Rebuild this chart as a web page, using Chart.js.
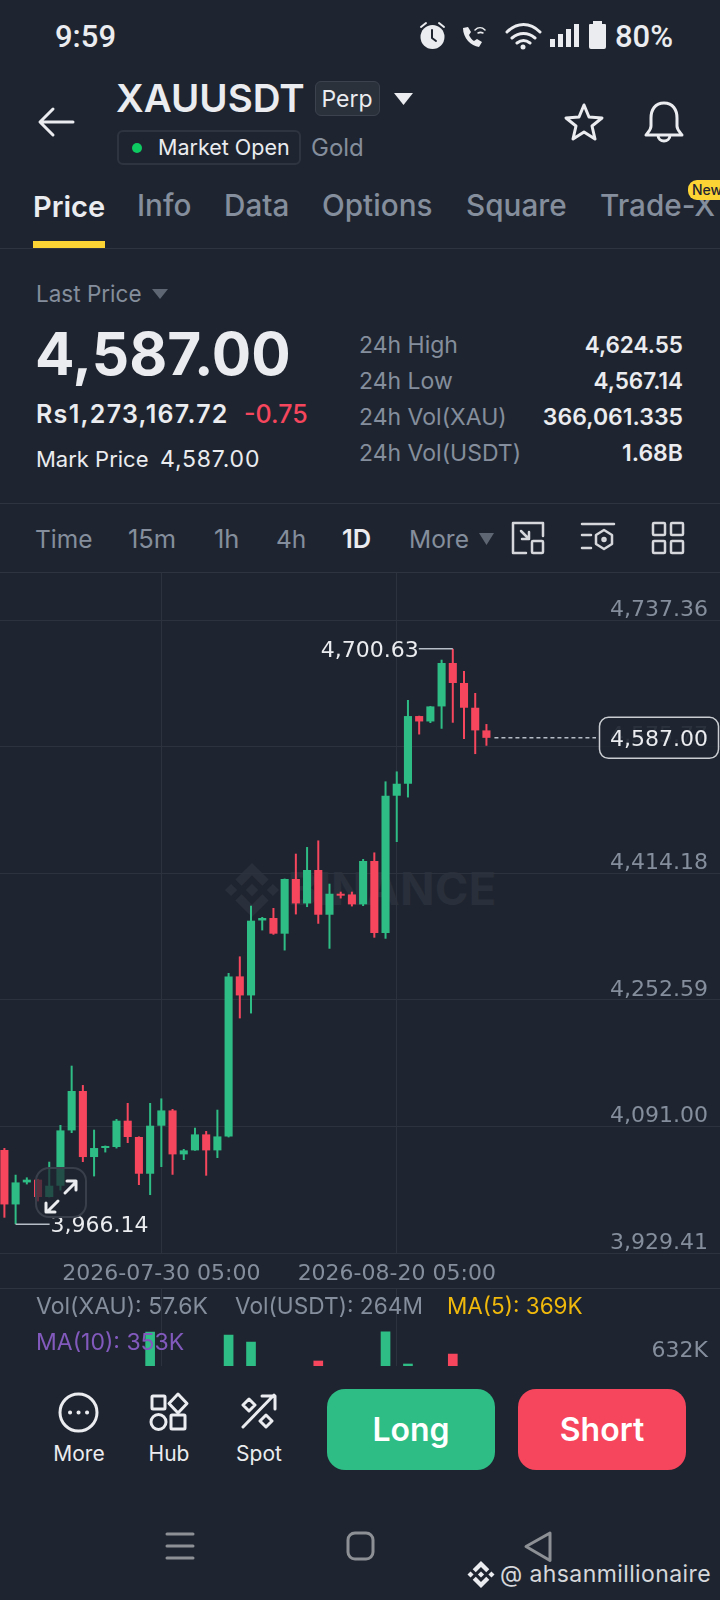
<!DOCTYPE html>
<html>
<head>
<meta charset="utf-8">
<title>XAUUSDT</title>
<script src="https://cdn.jsdelivr.net/npm/chart.js@4"></script>
<style>
html, body { margin: 0; padding: 0; background: #1f2530; }
body { width: 720px; height: 1600px; position: relative; overflow: hidden; font-family: Inter, sans-serif; color: #eaecef; }
.t { position: absolute; white-space: nowrap; transform: translateY(-50%); line-height: 1; }
.r { transform: translate(-100%, -50%); }
.c { transform: translate(-50%, -50%); }
.gray { color: #848e9c; }
.line { position: absolute; left: 0; width: 720px; height: 1px; background: #2f3540; }
canvas { position: absolute; left: 0; }
svg.layer { position: absolute; left: 0; top: 0; }
</style>
</head>
<body>

<svg class="layer" width="720" height="1600" style="z-index:0">
  <defs>
    <symbol id="bnb" viewBox="0 0 126.61 126.61">
      <path d="M38.73 53.2 63.3 28.63l24.59 24.59 14.3-14.3L63.3 0 24.43 38.9z"/>
      <path d="M0 63.31 14.3 49l14.3 14.3-14.3 14.3z"/>
      <path d="M38.73 73.41 63.3 97.98l24.59-24.58 14.31 14.29L63.3 126.6 24.43 87.72z"/>
      <path d="M98 63.31 112.3 49l14.31 14.3-14.31 14.3z"/>
      <path d="M77.83 63.3 63.3 48.78 48.78 63.3 63.3 77.82z"/>
    </symbol>
  </defs>
  <use href="#bnb" x="225" y="863" width="54" height="54" fill="#2a303b"/>
  <text x="288" y="905" font-family="Inter" font-weight="700" font-size="45" fill="#2a303b" textLength="208">BINANCE</text>
</svg>

<canvas id="velas" width="720" height="715" style="top:573px;z-index:1"></canvas>
<canvas id="volume" width="720" height="78" style="top:1288px;z-index:1"></canvas>

<div style="z-index:2;position:relative">
  <div class="t" style="left:55px;top:36px;font:500 31px Roboto">9:59</div>
  <div class="t" style="left:615px;top:36px;font:500 31px Roboto">80%</div>

  <div class="t" style="left:116px;top:98px;font-size:38.500px;font-weight:600">XAUUSDT</div>
  <div style="position:absolute;left:315px;top:81px;width:65px;height:35px;box-sizing:border-box;border:1px solid #3d434e;border-radius:6px;background:#2b313b"></div>
  <div class="t c" style="left:347px;top:99px;font-size:23px">Perp</div>
  <div style="position:absolute;left:117px;top:130px;width:184px;height:35px;box-sizing:border-box;border:2px solid #2f3540;border-radius:6px"></div>
  <div style="position:absolute;left:132px;top:143px;width:10px;height:10px;border-radius:5px;background:#0ecb61"></div>
  <div class="t" style="left:158px;top:148px;font-size:21.5px">Market Open</div>
  <div class="t gray" style="left:311px;top:148px;font-size:24px">Gold</div>

  <div class="t" style="left:33px;top:206px;font-size:29px;font-weight:600">Price</div>
  <div class="t gray" style="left:137px;top:206px;font-size:29.700px;font-weight:500">Info</div>
  <div class="t gray" style="left:224px;top:206px;font-size:29.700px;font-weight:500">Data</div>
  <div class="t gray" style="left:322px;top:206px;font-size:29.700px;font-weight:500">Options</div>
  <div class="t gray" style="left:466px;top:206px;font-size:29.700px;font-weight:500">Square</div>
  <div class="t gray" style="left:600px;top:206px;font-size:29.700px;font-weight:500">Trade-X</div>
  <div style="position:absolute;left:688px;top:180px;width:40px;height:20px;border-radius:9px;background:#fcd535"></div>
  <div class="t" style="left:692px;top:190px;font-size:14px;color:#1f2530;font-weight:500">New</div>
  <div style="position:absolute;left:33px;top:241px;width:72px;height:7px;background:#fcd535"></div>
  <div class="line" style="top:248px"></div>

  <div class="t gray" style="left:36px;top:294px;font-size:22.500px">Last Price</div>
  <div class="t" style="left:35px;top:354px;font-size:58.500px;font-weight:700">4,587.00</div>
  <div class="t" style="left:36px;top:414px;font-size:25px;font-weight:600;letter-spacing:1.300px">Rs1,273,167.72</div>
  <div class="t" style="left:244px;top:414px;font-size:25px;font-weight:500;color:#f6465d">-0.75</div>
  <div class="t" style="left:36px;top:459px;font-size:22px">Mark Price</div>
  <div class="t" style="left:160px;top:459px;font-size:23px;letter-spacing:0.800px">4,587.00</div>

  <div class="t gray" style="left:359px;top:345px;font-size:23px">24h High</div>
  <div class="t gray" style="left:359px;top:381px;font-size:23px">24h Low</div>
  <div class="t gray" style="left:359px;top:417px;font-size:23px">24h Vol(XAU)</div>
  <div class="t gray" style="left:359px;top:453px;font-size:23px">24h Vol(USDT)</div>
  <div class="t r" style="left:683px;top:345px;font-size:22.500px;font-weight:600">4,624.55</div>
  <div class="t r" style="left:683px;top:381px;font-size:22.500px;font-weight:600">4,567.14</div>
  <div class="t r" style="left:683px;top:417px;font-size:23px;font-weight:600">366,061.335</div>
  <div class="t r" style="left:683px;top:453px;font-size:23px;font-weight:600">1.68B</div>
  <div class="line" style="top:503px"></div>

  <div class="t gray" style="left:35px;top:539px;font-size:24.500px">Time</div>
  <div class="t gray" style="left:128px;top:539px;font-size:25.500px">15m</div>
  <div class="t gray" style="left:214px;top:539px;font-size:25.500px">1h</div>
  <div class="t gray" style="left:276px;top:539px;font-size:24.500px">4h</div>
  <div class="t" style="left:342px;top:539px;font-size:25.500px;font-weight:600">1D</div>
  <div class="t gray" style="left:409px;top:539px;font-size:24.500px">More</div>
  <div class="line" style="top:572px"></div>
  <div class="line" style="top:1288px"></div>

  <div class="t gray" style="left:36px;top:1306px;font-size:23px">Vol(XAU): 57.6K</div>
  <div class="t gray" style="left:235px;top:1306px;font-size:22.700px">Vol(USDT): 264M</div>
  <div class="t" style="left:447px;top:1306px;font-size:22.500px;color:#f0b90b">MA(5): 369K</div>
  <div class="t" style="left:36px;top:1342px;font-size:23px;color:#8259bd">MA(10): 353K</div>

  <!-- expand button over the chart -->
  <div style="position:absolute;left:35px;top:1167px;width:52px;height:51px;box-sizing:border-box;border:2px solid #3a404b;border-radius:14px;background:rgba(31,37,48,.72)"></div>

  <div class="t c" style="left:79px;top:1453px;font-size:21px">More</div>
  <div class="t c" style="left:169px;top:1453px;font-size:21px">Hub</div>
  <div class="t c" style="left:259px;top:1453px;font-size:21px">Spot</div>
  <div style="position:absolute;left:327px;top:1389px;width:168px;height:81px;border-radius:18px;background:#2ebd85"></div>
  <div style="position:absolute;left:518px;top:1389px;width:168px;height:81px;border-radius:18px;background:#f6465d"></div>
  <div class="t c" style="left:411px;top:1430px;font-size:32px;font-weight:600;color:#fff">Long</div>
  <div class="t c" style="left:602px;top:1430px;font-size:32px;font-weight:600;color:#fff">Short</div>

  <div class="t" style="left:500px;top:1574px;font-size:23px;color:#d5d7da;letter-spacing:0.400px">@ ahsanmillionaire</div>
</div>

<svg class="layer" width="720" height="1600" style="z-index:3" fill="none" stroke="#eaecef" stroke-width="3" stroke-linecap="round" stroke-linejoin="round">
  <!-- status bar -->
  <circle cx="432.5" cy="37" r="12" fill="#eaecef" stroke="none"/>
  <path d="M432 30v8l4 3" stroke="#1f2530" stroke-width="2"/>
  <path d="M421 27l5-4M444 27l-5-4" stroke-width="2"/>
  <path d="M463 28c0 10 8 18 16 19l3-5-5-3-3 2c-2-1-4-4-5-6l2-3-3-5z" fill="#eaecef" stroke="none"/>
  <path d="M475 30c3-3 7-3 10 0M478 33c2-1 3-1 5 0" stroke-width="1.5"/>
  <path d="M507 32c10-10 23-10 33 0M512 38c7-6 16-6 23 0M517 43c4-3 9-3 13 0" stroke-width="3"/>
  <circle cx="523" cy="47" r="2.5" fill="#eaecef" stroke="none"/>
  <path d="M550 47v-8h5v8zM558 47v-13h5v13zM566 47v-18h5v18zM574 47v-23h5v23z" fill="#eaecef" stroke="none"/>
  <path d="M593 21h9v3h3a1 1 0 0 1 1 1v22a2 2 0 0 1-2 2h-13a2 2 0 0 1-2-2v-22a1 1 0 0 1 1-1h3z" fill="#eaecef" stroke="none"/>
  <!-- header -->
  <path d="M73 122H41M53 109l-13 13 13 13"/>
  <path d="M394 93h19l-9.5 12z" fill="#eaecef" stroke="none"/>
  <path d="M584 105l5 12 13 1-10 8 3 13-11-7-11 7 3-13-10-8 13-1z"/>
  <path d="M664 103c-9 0-13 7-13 15v8c0 4-3 6-5 9h36c-2-3-5-5-5-9v-8c0-8-4-15-13-15zM658 135c0 8 12 8 12 0"/>
  <!-- small triangles -->
  <path d="M152 289h16l-8 10zM479 533h15l-7.5 12z" fill="#5e6673" stroke="none"/>
  <!-- chart tools -->
  <g stroke="#d5d7da" stroke-width="2.5">
    <path d="M526 553h-13v-30h30v13M521 531l8 8M529 532v7h-7"/>
    <rect x="532" y="541" width="11" height="12" rx="1"/>
    <path d="M582 524h32M582 535h9M582 548h9"/>
    <path d="M604 530l8 5v9l-8 5-8-5v-9z"/>
    <circle cx="604" cy="539.5" r="1.5"/>
    <rect x="653" y="523" width="12" height="12" rx="1"/><rect x="671" y="523" width="12" height="12" rx="1"/>
    <rect x="653" y="541" width="12" height="12" rx="1"/><rect x="671" y="541" width="12" height="12" rx="1"/>
  </g>
  <!-- expand arrows -->
  <path d="M65 1193l10-10M67 1181h9v9M58 1201l-10 10M46 1203v9h9"/>
  <!-- bottom bar icons -->
  <circle cx="78.5" cy="1412.5" r="18.5"/>
  <path d="M70 1412.5h.1M78.5 1412.5h.1M87 1412.5h.1" stroke-width="4"/>
  <rect x="152" y="1396" width="13" height="13" rx="1"/>
  <path d="M178 1394l9 9.500-9 9.500-9-9.500z"/>
  <circle cx="158.500" cy="1422" r="7.500"/>
  <rect x="171" y="1415" width="14" height="14" rx="1"/>
  <path d="M243 1427l31-32M262 1396h13v13M249 1399l6 6-6 6-6-6zM266 1415l6 6-6 6-6-6z"/>
  <!-- nav bar -->
  <g stroke="#8d9095">
    <path d="M167 1534h26M167 1546h26M167 1558h26"/>
    <rect x="348" y="1533" width="25" height="26" rx="7"/>
    <path d="M550 1533l-24 13.500 24 14z"/>
  </g>
  <use href="#bnb" x="467" y="1561" width="28" height="27" fill="#eaecef" stroke="none"/>
</svg>

<script>
// candles, one a day
const dates = ['2026-07-16', '2026-07-17', '2026-07-18', '2026-07-19', '2026-07-20', '2026-07-21', '2026-07-22', '2026-07-23', '2026-07-24', '2026-07-25', '2026-07-26', '2026-07-27', '2026-07-28', '2026-07-29', '2026-07-30', '2026-07-31', '2026-08-01', '2026-08-02', '2026-08-03', '2026-08-04', '2026-08-05', '2026-08-06', '2026-08-07', '2026-08-08', '2026-08-09', '2026-08-10', '2026-08-11', '2026-08-12', '2026-08-13', '2026-08-14', '2026-08-15', '2026-08-16', '2026-08-17', '2026-08-18', '2026-08-19', '2026-08-20', '2026-08-21', '2026-08-22', '2026-08-23', '2026-08-24', '2026-08-25', '2026-08-26', '2026-08-27', '2026-08-28'];
const opens = [4060.9, 3991.4, 4019.5, 4023, 4000.9, 4015.3, 4085.9, 4136.2, 4051.9, 4063.4, 4064.7, 4098.3, 4077.5, 4030.6, 4091.9, 4111.4, 4055.3, 4060.4, 4080.8, 4060.4, 4078.2, 4282.5, 4258.2, 4353.9, 4357, 4337, 4406.8, 4375.6, 4418.3, 4361.2, 4388, 4387.1, 4374.4, 4429.8, 4337.9, 4513.1, 4528.4, 4614.8, 4607.9, 4627.1, 4682.5, 4657, 4625.4, 4596.5];
const closes = [3991.4, 4019.5, 4023, 4000.9, 4015.3, 4085.9, 4136.2, 4051.9, 4063.4, 4066, 4098.3, 4077.5, 4030.6, 4091.9, 4111.4, 4055.3, 4060.4, 4080.8, 4060.4, 4078.2, 4282.5, 4258.2, 4353.6, 4357, 4337, 4406.8, 4375.6, 4418.3, 4361.2, 4388, 4385.5, 4374.4, 4429.8, 4337.9, 4513.1, 4528.4, 4614.8, 4607.9, 4627.1, 4682.5, 4657, 4625.4, 4596.5, 4587];
const highs = [4063.4, 4029.3, 4025.9, 4024, 4045.9, 4092.8, 4168.5, 4143.8, 4086.8, 4066.5, 4100.4, 4120.9, 4078.2, 4120.9, 4126.7, 4113.2, 4062.2, 4089.3, 4085.1, 4112.3, 4286.8, 4308, 4372.7, 4358.3, 4369.8, 4407.3, 4439.1, 4447.6, 4456, 4400.8, 4390.6, 4390.6, 4432.3, 4440.7, 4531.4, 4544.1, 4635.3, 4615.2, 4627.5, 4686.7, 4700.63, 4672.3, 4644.2, 4604.6];
const lows = [3974.5, 3966.14, 4017, 3995.3, 4000.5, 4009.3, 4082.6, 4045.6, 4027.2, 4057.8, 4062.9, 4069.8, 4016.2, 4003.4, 4039.2, 4029.3, 4048.1, 4060, 4028.1, 4050.7, 4077, 4228.9, 4235.2, 4341.2, 4335.7, 4315.6, 4361.6, 4371, 4349.7, 4317.8, 4382, 4371.8, 4372.3, 4331.9, 4330.6, 4454, 4510.9, 4591.3, 4605.9, 4598.6, 4606.3, 4585.5, 4566.3, 4576.9];
const volumes = [310000, 280000, 190000, 260000, 240000, 420000, 510000, 480000, 350000, 170000, 300000, 330000, 410000, 864000, 380000, 430000, 210000, 260000, 350000, 390000, 840000, 520000, 784000, 240000, 270000, 460000, 530000, 480000, 632000, 450000, 150000, 210000, 370000, 560000, 866000, 430000, 608000, 180000, 220000, 480000, 688000, 470000, 360000, 57600];

const priceTicks = [3929.41, 4091.00, 4252.59, 4414.18, 4575.77, 4737.36];
const timeTicks = [14, 35];
const volumeTicks = [632000];
const lastPrice = 4587.00;

const verde = '#2ebd85';
const vermelho = '#f6465d';
const grade = '#2d333e';
const cinza = '#848e9c';
const fonte = { family: 'DejaVu Sans', size: 22 };

const cores = opens.map((o, i) => closes[i] >= o ? verde : vermelho);
const fmt = v => v.toLocaleString('en-US', { minimumFractionDigits: 2, maximumFractionDigits: 2 });

// same horizontal window on both charts
const xMin = -0.3925;
const xMax = 63.836;

// tick labels must not push the plot area inwards
const semPadding = s => {
    s.paddingLeft = 0;
    s.paddingRight = 0;
    s.paddingTop = 0;
    s.paddingBottom = 0;
};
const eixoY = s => {
    s.width = 0;
    semPadding(s);
};

// high, low and last price labels
const marcas = {
    id: 'marcas',
    afterDatasetsDraw(chart) {
        const { ctx, scales: { x, y } } = chart;
        const topo = Math.max(...highs);
        const fundo = Math.min(...lows);
        const xTopo = x.getPixelForValue(highs.indexOf(topo));
        const xFundo = x.getPixelForValue(lows.indexOf(fundo));
        const xUltimo = x.getPixelForValue(dates.length - 1);
        ctx.save();
        ctx.font = '22px "DejaVu Sans"';
        ctx.textBaseline = 'middle';
        ctx.lineWidth = 1.5;
        ctx.strokeStyle = '#b7bdc6';
        ctx.fillStyle = '#eaecef';

        ctx.beginPath();
        ctx.moveTo(xTopo, y.getPixelForValue(topo));
        ctx.lineTo(xTopo - 34, y.getPixelForValue(topo));
        ctx.moveTo(xFundo, y.getPixelForValue(fundo));
        ctx.lineTo(xFundo + 34, y.getPixelForValue(fundo));
        ctx.stroke();
        ctx.textAlign = 'right';
        ctx.fillText(fmt(topo), xTopo - 34, y.getPixelForValue(topo) + 2);
        ctx.textAlign = 'left';
        ctx.fillText(fmt(fundo), xFundo + 35, y.getPixelForValue(fundo) + 2);

        const yUltimo = y.getPixelForValue(lastPrice);
        ctx.setLineDash([4, 3]);
        ctx.beginPath();
        ctx.moveTo(xUltimo + 8, yUltimo);
        ctx.lineTo(596, yUltimo);
        ctx.stroke();
        ctx.setLineDash([]);

        ctx.beginPath();
        ctx.roundRect(599.5, yUltimo - 20.5, 119, 41, 9);
        ctx.fillStyle = 'rgba(31,37,48,.88)';
        ctx.fill();
        ctx.strokeStyle = '#c9ccd1';
        ctx.stroke();
        ctx.fillStyle = '#eaecef';
        ctx.textAlign = 'right';
        ctx.fillText(fmt(lastPrice), 708, yUltimo + 2);
        ctx.restore();
    }
};

new Chart(document.getElementById('velas'), {
    type: 'bar',
    data: {
        labels: dates,
        datasets: [
            {
                data: dates.map((d, i) => ({ x: i, y: [opens[i], closes[i]] })),
                backgroundColor: cores,
                maxBarThickness: 9,
                grouped: false
            },
            {
                data: dates.map((d, i) => ({ x: i, y: [lows[i], highs[i]] })),
                backgroundColor: cores,
                maxBarThickness: 2,
                grouped: false
            }
        ]
    },
    options: {
        responsive: false,
        animation: false,
        events: [],
        layout: { padding: 0 },
        scales: {
            x: {
                type: 'linear',
                offset: false,
                min: xMin,
                max: xMax,
                afterBuildTicks: s => { s.ticks = timeTicks.map(v => ({ value: v })); },
                afterFit: s => { s.height = 35; semPadding(s); },
                border: { display: false },
                grid: { color: grade, drawTicks: false, offset: false },
                ticks: {
                    color: cinza,
                    font: fonte,
                    padding: 8,
                    autoSkip: false,
                    maxRotation: 0,
                    callback: v => dates[v] + ' 05:00'
                }
            },
            y: {
                position: 'right',
                min: 3929.41,
                max: 4797.4,
                afterBuildTicks: s => { s.ticks = priceTicks.map(v => ({ value: v })); },
                afterFit: eixoY,
                border: { display: false },
                grid: { color: grade, drawTicks: false },
                ticks: {
                    color: cinza,
                    font: fonte,
                    mirror: true,
                    padding: -12,
                    labelOffset: -10,
                    callback: v => fmt(v)
                }
            }
        },
        plugins: {
            legend: { display: false },
            tooltip: { enabled: false }
        }
    },
    plugins: [marcas]
});

new Chart(document.getElementById('volume'), {
    type: 'bar',
    data: {
        labels: dates,
        datasets: [{
            data: dates.map((d, i) => ({ x: i, y: volumes[i] })),
            backgroundColor: cores,
            barThickness: 9
        }]
    },
    options: {
        responsive: false,
        animation: false,
        events: [],
        layout: { padding: 0 },
        scales: {
            x: {
                type: 'linear',
                offset: false,
                min: xMin,
                max: xMax,
                afterBuildTicks: s => { s.ticks = timeTicks.map(v => ({ value: v })); },
                afterFit: s => { s.height = 0; semPadding(s); },
                border: { display: false },
                grid: { color: grade, drawTicks: false, offset: false },
                ticks: { display: false }
            },
            y: {
                position: 'right',
                min: 592000,
                max: 1216000,
                afterBuildTicks: s => { s.ticks = volumeTicks.map(v => ({ value: v })); },
                afterFit: eixoY,
                border: { display: false },
                grid: { display: false, drawTicks: false },
                ticks: {
                    color: cinza,
                    font: fonte,
                    mirror: true,
                    padding: -12,
                    labelOffset: -10,
                    callback: v => (v / 1000) + 'K'
                }
            }
        },
        plugins: {
            legend: { display: false },
            tooltip: { enabled: false }
        }
    }
});
</script>
</body>
</html>
